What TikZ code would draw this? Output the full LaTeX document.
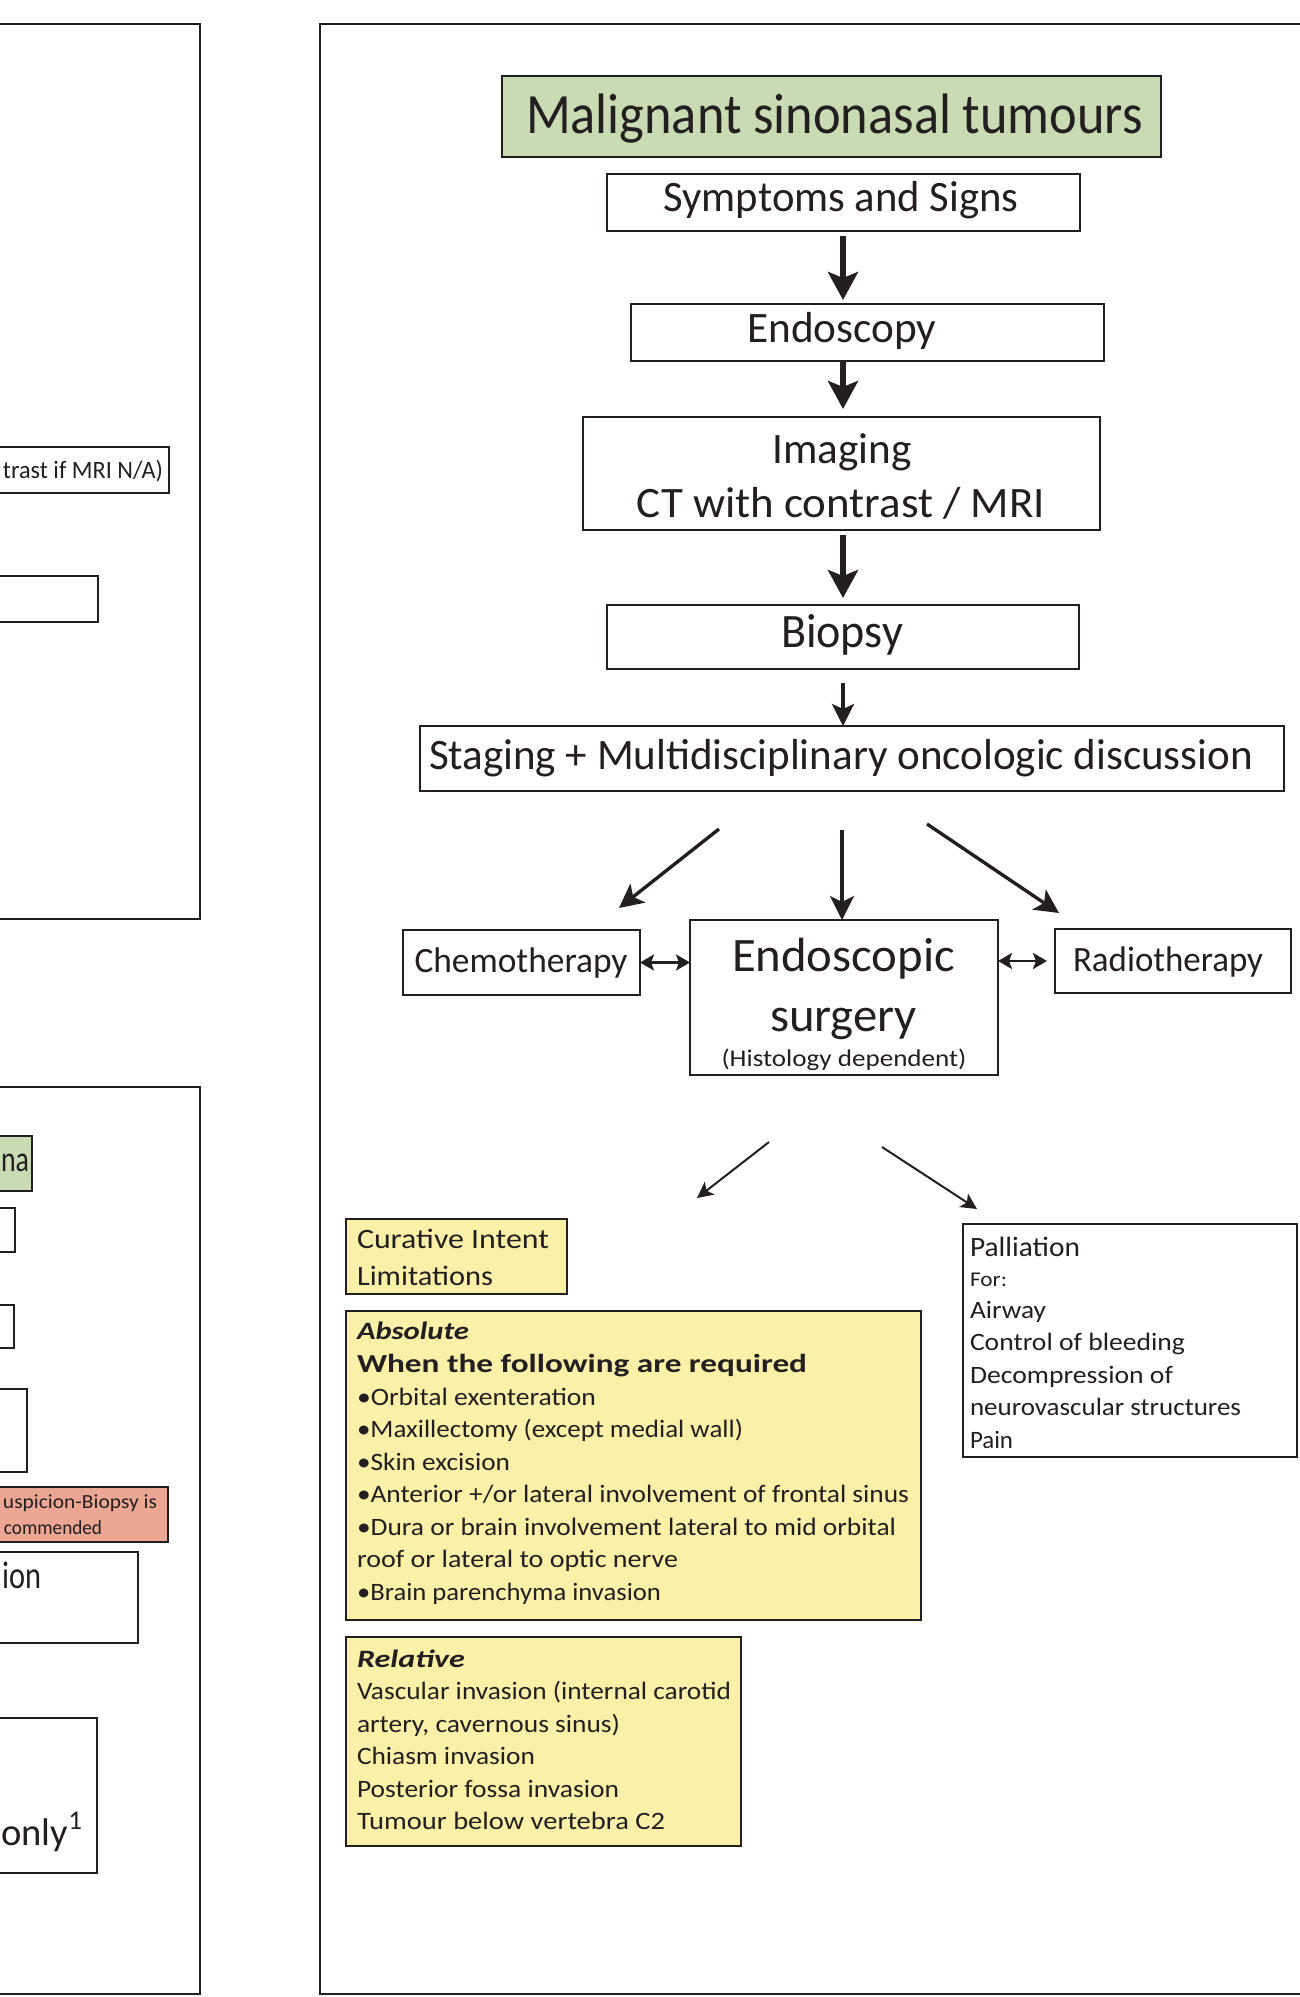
\documentclass[tikz,border=0pt]{standalone}
\usepackage{fontspec}
\setmainfont{Carlito}
\usetikzlibrary{arrows.meta,calc}
\definecolor{ink}{HTML}{231F20}
\definecolor{tgreen}{HTML}{C9DBB3}
\definecolor{tyellow}{HTML}{FAF0A8}
\definecolor{tsalmon}{HTML}{EBA793}
\newcommand{\fitw}[2]{\resizebox{#1}{\height}{#2}}
\begin{document}
\begin{tikzpicture}[x=0.5pt,y=-0.5pt,
  every node/.style={text=ink, inner sep=0pt, outer sep=0pt},
  frame/.style={draw=ink, line width=1pt},
  boxn/.style={draw=ink, line width=0.75pt, anchor=north west, inner sep=0pt},
  ctxt/.style={anchor=base},
  ltxt/.style={anchor=base west},
  rtxt/.style={anchor=base east},
  bigarrow/.style={draw=ink, line width=2.6pt, -{Stealth[length=14pt,width=15pt,inset=3pt]}},
  medarrow/.style={draw=ink, line width=1.6pt, -{Stealth[length=11pt,width=11pt,inset=2.5pt]}},
  diagarrow/.style={draw=ink, line width=1.7pt, -{Stealth[length=12pt,width=12pt,inset=3pt]}},
  dblarrow/.style={draw=ink, line width=1.2pt, {Stealth[length=7pt,width=8pt,inset=1.5pt]}-{Stealth[length=7pt,width=8pt,inset=1.5pt]}},
  smallarrow/.style={draw=ink, line width=1pt, -{Stealth[length=8pt,width=8pt,inset=2pt]}},
  body/.style={font=\fontsize{12.5}{15}\selectfont},
  big/.style={font=\fontsize{21.7}{26}\selectfont},
  mid/.style={font=\fontsize{17.8}{21}\selectfont},
  left/.style={font=\fontsize{19.3}{23}\selectfont}
]
\useasboundingbox (0,0) rectangle (1300,1997);
\clip (0,0) rectangle (1300,1997);
\fill[white] (0,0) rectangle (1300,1997);

% ---------- left partial panels ----------
\draw[frame] (-10,24) rectangle (200,919);
\node[boxn, minimum width=89.5pt, minimum height=23pt] (lb1) at (-10,447) {};
\node[rtxt, body] (lb1t) at (163,478) {\fitw{80pt}{trast if MRI N/A)}};
\node[boxn, minimum width=54pt, minimum height=23pt] (lb2) at (-10,576) {};

\draw[frame] (-10,1087) rectangle (200,1994);
\node[boxn, fill=tgreen, minimum width=21pt, minimum height=27.5pt] (lgreen) at (-10,1136) {};
\node[rtxt, font=\fontsize{18}{22}\selectfont] (lgreent) at (29,1171) {\fitw{14pt}{na}};
\node[boxn, minimum width=12.5pt, minimum height=22pt] (lb3) at (-10,1208) {};
\node[boxn, minimum width=12pt, minimum height=21.5pt] (lb4) at (-10,1305) {};
\node[boxn, minimum width=18.5pt, minimum height=41.5pt] (lb5) at (-10,1389) {};
\node[boxn, fill=tsalmon, minimum width=89pt, minimum height=27.5pt] (lsal) at (-10,1487) {};
\node[rtxt, font=\fontsize{10}{12}\selectfont] (lsal1) at (157,1508) {\fitw{77pt}{uspicion-Biopsy is}};
\node[rtxt, font=\fontsize{10}{12}\selectfont] (lsal2) at (102,1534) {\fitw{49pt}{commended}};
\node[boxn, minimum width=74pt, minimum height=45.5pt] (lb6) at (-10,1552) {};
\node[rtxt, left] (lb6t) at (42,1588) {\fitw{19.5pt}{ion}};
\node[boxn, minimum width=53.5pt, minimum height=77.5pt] (lb7) at (-10,1718) {};
\node[rtxt, left] (lb7t) at (83,1845) {only\textsuperscript{1}};

% ---------- right panel ----------
\draw[frame] (320,24) rectangle (1310,1994);

\node[boxn, fill=tgreen, line width=0.6pt, minimum width=329.5pt, minimum height=40.5pt] (title) at (502,76) {};
\node[ctxt, font=\fontsize{28.5}{34}\selectfont] (titlet) at (834.5,133) {\fitw{308.5pt}{Malignant sinonasal tumours}};

\node[boxn, line width=0.9pt, minimum width=236.5pt, minimum height=28.5pt] (sym) at (607,174) {};
\node[ctxt, big] (symt) at (841,211) {\fitw{177.5pt}{Symptoms and Signs}};

\node[boxn, minimum width=236.5pt, minimum height=28.5pt] (endo) at (631,304) {};
\node[ctxt, big] (endot) at (842,342) {\fitw{94.5pt}{Endoscopy}};

\node[boxn, minimum width=258.5pt, minimum height=56.5pt] (img) at (583,417) {};
\node[ctxt, big] (imgt1) at (842,463) {\fitw{69.5pt}{Imaging}};
\node[ctxt, big] (imgt2) at (841,517) {\fitw{204pt}{CT with contrast / MRI}};

\node[boxn, minimum width=236pt, minimum height=32pt] (bio) at (607,605) {};
\node[ctxt, font=\fontsize{24}{28}\selectfont] (biot) at (842,647) {\fitw{61pt}{Biopsy}};

\node[boxn, minimum width=432pt, minimum height=32.5pt] (stag) at (420,726) {};
\node[ltxt, big] (stagt) at (429,769) {\fitw{412pt}{Staging + Multidisciplinary oncologic discussion}};

\node[boxn, minimum width=118.5pt, minimum height=32.5pt] (chemo) at (403,930) {};
\node[ctxt, mid] (chemot) at (521,972) {\fitw{106.5pt}{Chemotherapy}};

\node[boxn, line width=1.1pt, minimum width=154pt, minimum height=77.5pt] (surg) at (690,920) {};
\node[ctxt, font=\fontsize{24}{28}\selectfont] (surgt1) at (843.5,971) {\fitw{111.5pt}{Endoscopic}};
\node[ctxt, font=\fontsize{24}{28}\selectfont] (surgt2) at (843.5,1031) {\fitw{73.5pt}{surgery}};
\node[ctxt, font=\fontsize{12}{14}\selectfont] (surgt3) at (844,1066) {\fitw{122.5pt}{(Histology dependent)}};

\node[boxn, line width=1pt, minimum width=118pt, minimum height=32pt] (radio) at (1055,929) {};
\node[ctxt, mid] (radiot) at (1168,971) {\fitw{95pt}{Radiotherapy}};

% vertical arrows
\draw[bigarrow] ($(sym.south -| bio.north)+(0,5)$) -- ($(endo.north -| bio.north)+(0,-4)$);
\draw[bigarrow] (endo.south -| bio.north) -- ($(img.north -| bio.north)+(0,-8)$);
\draw[bigarrow] ($(img.south -| bio.north)+(0,5)$) -- ($(bio.north)+(0,-7)$);
\draw[medarrow] ($(bio.south)+(0,14)$) -- (stag.north -| bio.south);

% staging to treatments
\coordinate (s5l) at (719,829);
\coordinate (e5l) at (619,908);
\coordinate (s5c) at (842,830);
\coordinate (s5r) at (927,824);
\coordinate (e5r) at (1059,913);
\draw[diagarrow] (s5l) -- (e5l);
\draw[diagarrow] (s5c) -- (s5c |- surg.north);
\draw[diagarrow] (s5r) -- (e5r);

% double arrows
\draw[dblarrow] (chemo.east) -- (chemo.east -| surg.west);
\draw[dblarrow, shorten >=4pt] (surg.east |- radio.west) -- (radio.west);

% lower arrows
\coordinate (s6l) at (769,1142);
\coordinate (e6l) at (697,1198);
\coordinate (s6r) at (882,1147);
\coordinate (e6r) at (977,1209);
\draw[smallarrow] (s6l) -- (e6l);
\draw[smallarrow] (s6r) -- (e6r);

% curative intent
\node[boxn, fill=tyellow, minimum width=110.5pt, minimum height=37.5pt] (cur) at (346,1219) {};
\node[ltxt, font=\fontsize{14}{17}\selectfont] (curt1) at (357,1248) {\fitw{96pt}{Curative Intent}};
\node[ltxt, font=\fontsize{14}{17}\selectfont] (curt2) at (357,1285) {\fitw{68pt}{Limitations}};

% absolute
\node[boxn, fill=tyellow, minimum width=287.5pt, minimum height=154.5pt] (abs) at (346,1311) {};
\node[ltxt, font=\fontsize{12.5}{15}\selectfont\bfseries\itshape] (abs1) at (357,1339) {\fitw{56pt}{Absolute}};
\node[ltxt, font=\fontsize{13}{15}\selectfont\bfseries] (abs2) at (357,1372) {\fitw{225pt}{When the following are required}};
\node[ltxt, body] (abs3) at (357,1405) {\fitw{119.5pt}{•Orbital exenteration}};
\node[ltxt, body] (abs4) at (357,1437) {\fitw{193pt}{•Maxillectomy (except medial wall)}};
\node[ltxt, body] (abs5) at (357,1470) {\fitw{76.5pt}{•Skin excision}};
\node[ltxt, body] (abs6) at (357,1502) {\fitw{276pt}{•Anterior +/or lateral involvement of frontal sinus}};
\node[ltxt, body] (abs7) at (357,1535) {\fitw{269.5pt}{•Dura or brain involvement lateral to mid orbital}};
\node[ltxt, body] (abs8) at (357,1567) {\fitw{160.5pt}{roof or lateral to optic nerve}};
\node[ltxt, body] (abs9) at (357,1600) {\fitw{152pt}{•Brain parenchyma invasion}};

% relative
\node[boxn, fill=tyellow, minimum width=197.5pt, minimum height=104.5pt] (rel) at (346,1637) {};
\node[ltxt, font=\fontsize{12.5}{15}\selectfont\bfseries\itshape] (rel1) at (357,1667) {\fitw{54pt}{Relative}};
\node[ltxt, body] (rel2) at (357,1699.5) {\fitw{187pt}{Vascular invasion (internal carotid}};
\node[ltxt, body] (rel3) at (357,1732) {\fitw{131.5pt}{artery, cavernous sinus)}};
\node[ltxt, body] (rel4) at (357,1764.5) {\fitw{89pt}{Chiasm invasion}};
\node[ltxt, body] (rel5) at (357,1797) {\fitw{131pt}{Posterior fossa invasion}};
\node[ltxt, body] (rel6) at (357,1829.5) {\fitw{154pt}{Tumour below vertebra C2}};

% palliation
\node[boxn, minimum width=167pt, minimum height=116.5pt] (pal) at (963,1224) {};
\node[ltxt, font=\fontsize{14}{17}\selectfont] (pal1) at (970,1256) {\fitw{55pt}{Palliation}};
\node[ltxt, font=\fontsize{10.5}{12}\selectfont] (pal2) at (970,1286) {\fitw{18.5pt}{For:}};
\node[ltxt, body] (pal3) at (970,1318) {\fitw{38pt}{Airway}};
\node[ltxt, body] (pal4) at (970,1350.5) {\fitw{107.5pt}{Control of bleeding}};
\node[ltxt, body] (pal5) at (970,1383) {\fitw{101.5pt}{Decompression of}};
\node[ltxt, body] (pal6) at (970,1415.5) {\fitw{135.5pt}{neurovascular structures}};
\node[ltxt, body] (pal7) at (970,1448) {\fitw{21.5pt}{Pain}};
\end{tikzpicture}
\end{document}
